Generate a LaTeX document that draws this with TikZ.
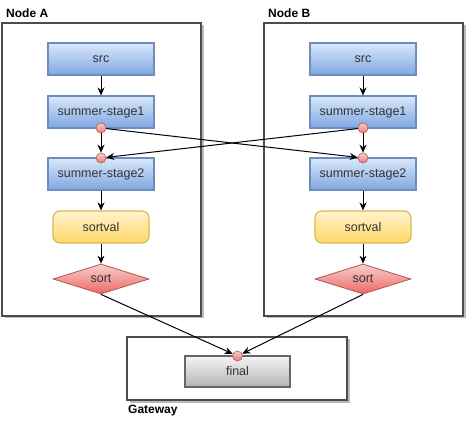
\documentclass[tikz,border=0pt]{standalone}
\usepackage{fontspec}
\setmainfont{Liberation Sans}
\usetikzlibrary{arrows.meta,shapes.geometric,shadows}
\definecolor{bluetop}{HTML}{DAE8FC}
\definecolor{bluebot}{HTML}{7EA6E0}
\definecolor{blueline}{HTML}{6C8EBF}
\definecolor{yeltop}{HTML}{FFF2CC}
\definecolor{yelbot}{HTML}{FFD966}
\definecolor{yelline}{HTML}{D6B656}
\definecolor{redtop}{HTML}{F8CECC}
\definecolor{redbot}{HTML}{EA6B66}
\definecolor{redline}{HTML}{B85450}
\definecolor{graytop}{HTML}{F5F5F5}
\definecolor{graybot}{HTML}{B3B3B3}
\definecolor{grayline}{HTML}{666666}
\definecolor{txt}{HTML}{333333}
\begin{document}
\begin{tikzpicture}[x=1pt,y=-1pt,
  container/.style={draw=black!70, line width=1.3pt, fill=white, rectangle, inner sep=0pt,
    drop shadow={shadow xshift=2.5pt, shadow yshift=-2.5pt, fill=black!45, opacity=0.6}},
  grouplabel/.style={font=\fontsize{12}{14}\selectfont\bfseries, text=black, anchor=west, inner sep=0pt},
  boxtext/.style={font=\fontsize{12.5}{15}\selectfont, text=txt},
  bluebox/.style={boxtext, rectangle, draw=blueline, line width=1.1pt, top color=bluetop, bottom color=bluebot, minimum width=106pt, minimum height=32pt, inner sep=0pt},
  yelbox/.style={boxtext, rectangle, rounded corners=7pt, draw=yelline, line width=1.1pt, top color=yeltop, bottom color=yelbot, minimum width=96pt, minimum height=32pt, inner sep=0pt},
  reddia/.style={boxtext, diamond, aspect=3.2, draw=redline, line width=0.8pt, top color=redtop, bottom color=redbot, minimum width=96pt, minimum height=30pt, inner sep=0pt},
  graybox/.style={boxtext, rectangle, draw=grayline, line width=1.1pt, top color=graytop, bottom color=graybot, minimum width=105pt, minimum height=31pt, inner sep=0pt},
  port/.style={circle, draw=redline, line width=0.6pt, top color=redtop, bottom color=redbot!90, minimum size=10pt, inner sep=0pt},
  flow/.style={draw=black, line width=1pt, -{Stealth[length=8pt,width=7pt]}}
]
\useasboundingbox (0,0) rectangle (474,430);

% containers
\node[container, minimum width=199pt, minimum height=293pt] (ca) at (101.5,169.5) {};
\node[container, minimum width=199pt, minimum height=293pt] (cb) at (363.5,169.5) {};
\node[container, minimum width=220pt, minimum height=63pt] (cg) at (237,368.5) {};
\node[grouplabel] (la) at (6,13) {Node A};
\node[grouplabel] (lb) at (268,13) {Node B};
\node[grouplabel] (lg) at (128,411) {Gateway};

% Node A
\node[bluebox] (srcA) at (101,59) {src};
\node[bluebox] (s1A) at (101,112) {summer-stage1};
\node[bluebox] (s2A) at (101,174) {summer-stage2};
\node[yelbox] (svA) at (101,227) {sortval};
\node[reddia] (sA) at (101,279) {sort};

% Node B
\node[bluebox] (srcB) at (363,59) {src};
\node[bluebox] (s1B) at (363,112) {summer-stage1};
\node[bluebox] (s2B) at (363,174) {summer-stage2};
\node[yelbox] (svB) at (363,227) {sortval};
\node[reddia] (sB) at (363,279) {sort};

% Gateway
\node[graybox] (fin) at (237.5,371.5) {final};

% arrows
\draw[flow] (srcA) -- (s1A);
\draw[flow] (s2A) -- (svA);
\draw[flow] (svA) -- (sA);
\draw[flow] (srcB) -- (s1B);
\draw[flow] (s2B) -- (svB);
\draw[flow] (svB) -- (sB);

% ports
\node[port] (o1A) at (101,128) {};
\node[port] (i2A) at (101,158) {};
\node[port] (o1B) at (363,128) {};
\node[port] (i2B) at (363,158) {};
\node[port] (iF) at (237.5,356) {};

\draw[flow] (o1A) -- (i2A);
\draw[flow] (o1B) -- (i2B);
\draw[flow] (o1A) -- (i2B);
\draw[flow] (o1B) -- (i2A);
\draw[flow] (sA.south) -- (iF);
\draw[flow] (sB.south) -- (iF);
\end{tikzpicture}
\end{document}
